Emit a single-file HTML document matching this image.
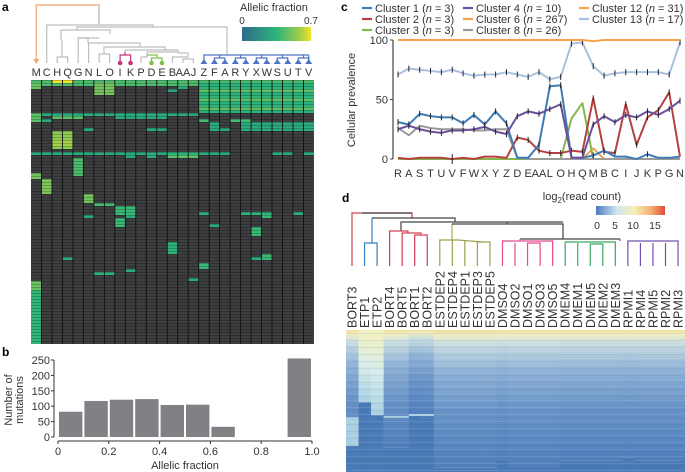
<!DOCTYPE html>
<html><head><meta charset="utf-8"><style>
html,body{margin:0;padding:0;background:#fff;}
svg{display:block;font-family:"Liberation Sans",sans-serif;}
</style></head><body>
<svg id="fig" width="685" height="472" viewBox="0 0 685 472">
<defs>
<linearGradient id="afgrad" x1="0" x2="1"><stop offset="0" stop-color="#2f6b8a"/><stop offset="0.5" stop-color="#2cb47c"/><stop offset="0.85" stop-color="#a6cf4a"/><stop offset="1" stop-color="#f2e52a"/></linearGradient>
<linearGradient id="rcgrad" x1="0" x2="1"><stop offset="0" stop-color="#4a7bc0"/><stop offset="0.3" stop-color="#cfe6f0"/><stop offset="0.55" stop-color="#f5f0b8"/><stop offset="0.8" stop-color="#f4b070"/><stop offset="1" stop-color="#e04a3a"/></linearGradient>
<linearGradient id="colgrad" x1="0" y1="0" x2="0" y2="1"><stop offset="0" stop-color="#f3d98a"/><stop offset="0.03" stop-color="#f3efc0"/><stop offset="0.1" stop-color="#c9dde0"/><stop offset="0.3" stop-color="#8fb2d6"/><stop offset="0.6" stop-color="#6893c7"/><stop offset="1" stop-color="#517fbc"/></linearGradient>
<linearGradient id="etpgrad" x1="0" y1="0" x2="0" y2="1"><stop offset="0" stop-color="#f4f0bc"/><stop offset="0.5" stop-color="#d6ecea"/><stop offset="1" stop-color="#a9d0e2"/></linearGradient>
<pattern id="rowlines" width="4" height="3" patternUnits="userSpaceOnUse"><rect width="4" height="1" y="2" fill="#000" opacity="0.22"/></pattern>
<pattern id="dstripe" width="6" height="7" patternUnits="userSpaceOnUse"><rect width="6" height="1" y="1" fill="#fff" opacity="0.1"/><rect width="6" height="1" y="4" fill="#2a5a99" opacity="0.1"/></pattern>
</defs>

<!-- PANEL A -->
<text x="2" y="11" font-size="12" font-weight="bold">a</text>
<g id="dendroA" fill="none" stroke-width="1.2"></g>
<g id="labelsA" font-size="11" fill="#333" text-anchor="middle"></g>
<text x="240" y="11" font-size="11" fill="#333">Allelic fraction</text>
<text x="242" y="24" font-size="10" fill="#333" text-anchor="middle">0</text>
<text x="311" y="24" font-size="10" fill="#333" text-anchor="middle">0.7</text>
<rect x="242" y="27" width="69" height="14" fill="url(#afgrad)"/>
<g id="heatA"></g>

<!-- PANEL B -->
<text x="2" y="356" font-size="12" font-weight="bold">b</text>
<g id="chartB"></g>
<text x="185" y="469" font-size="11" fill="#333" text-anchor="middle">Allelic fraction</text>
<text transform="translate(12,400) rotate(-90)" font-size="11" fill="#333" text-anchor="middle"><tspan x="0" dy="0">Number of</tspan><tspan x="0" dy="11">mutations</tspan></text>

<!-- PANEL C -->
<text x="341" y="11" font-size="12" font-weight="bold">c</text>
<g id="legendC" font-size="11" fill="#333"></g>
<g id="chartC"></g>
<text transform="translate(355,100) rotate(-90)" font-size="11" fill="#333" text-anchor="middle">Cellular prevalence</text>

<!-- PANEL D -->
<text x="342" y="202" font-size="12" font-weight="bold">d</text>
<text x="582" y="200" font-size="11" fill="#333" text-anchor="middle">log<tspan font-size="8" dy="3">2</tspan><tspan dy="-3">(read count)</tspan></text>
<rect x="596" y="206" width="69" height="9" fill="url(#rcgrad)"/>
<g font-size="10.5" fill="#333" text-anchor="middle">
<text x="597" y="229">0</text><text x="615" y="229">5</text><text x="633" y="229">10</text><text x="655" y="229">15</text></g>
<g id="dendroD" fill="none" stroke-width="1.2"></g>
<g id="labelsD" font-size="12.5" fill="#333"></g>
<g id="heatD"></g>
</svg>
<script>
const NS="http://www.w3.org/2000/svg";
function mk(tag,attrs,parent){const e=document.createElementNS(NS,tag);for(const k in attrs)e.setAttribute(k,attrs[k]);parent.appendChild(e);return e;}

/* ---------- Panel A data ---------- */
const samplesA=["M","C","H","Q","G","N","L","O","I","K","P","D","E","B","AA","J","Z","F","A","R","Y","X","W","S","U","T","V"];
// cells: [colStart,colEnd,rowStart,rowEnd,allelicFraction] (rows of 3px)
const cellsA=[
[0,26,0,1,0.42],[2,3,0,0,0.7],[0,0,1,2,0.48],[6,7,1,4,0.5],[13,13,3,3,0.25],[14,14,2,2,0.3],
[16,26,1,10,0.35],[16,26,3,3,0.45],[16,26,6,6,0.45],[16,26,9,9,0.45],
[0,15,11,11,0.3],[0,0,11,13,0.45],[1,1,13,13,0.3],[2,4,12,12,0.45],[8,12,12,12,0.3],
[16,16,13,13,0.4],[17,17,14,16,0.3],[19,20,13,13,0.4],[20,26,14,16,0.3],[18,18,16,16,0.3],[5,5,16,16,0.3],[11,12,16,16,0.3],
[2,3,17,22,0.55],[2,3,20,21,0.6],
[0,7,24,24,0.3],[8,12,24,24,0.3],[13,15,24,24,0.35],[16,18,24,24,0.3],[23,24,24,24,0.3],[26,26,24,24,0.3],[9,9,25,25,0.3],[11,11,25,25,0.3],[13,15,25,25,0.45],
[4,4,26,31,0.42],[0,0,31,32,0.5],[1,1,33,37,0.52],[5,5,38,40,0.5],[6,7,41,41,0.4],[8,9,42,44,0.38],[5,5,45,45,0.3],[9,9,45,45,0.3],
[16,16,44,44,0.35],[20,22,44,44,0.35],[22,22,45,45,0.38],[25,25,44,44,0.35],[8,8,46,48,0.38],[17,17,48,48,0.3],[21,21,49,51,0.38],
[13,13,54,57,0.35],[3,3,59,59,0.3],[21,21,59,59,0.3],[22,22,58,59,0.38],[16,16,61,62,0.38],[6,7,64,64,0.35],[9,9,63,63,0.3],[15,15,66,66,0.3],
[0,0,67,69,0.48],[0,0,70,87,0.36]
];
function afColor(v){
  const stops=[[0,[47,107,138]],[0.35,[44,180,124]],[0.6,[166,207,74]],[0.7,[242,229,42]]];
  v=Math.min(0.7,Math.max(0,v));
  for(let i=1;i<stops.length;i++){if(v<=stops[i][0]){const a=stops[i-1],b=stops[i],t=(v-a[0])/(b[0]-a[0]);
    return "rgb("+a[1].map((c,j)=>Math.round(c+(b[1][j]-c)*t)).join(",")+")";}}
  return "rgb(242,229,42)";
}
(function(){
  const g=document.getElementById("heatA"), x0=31, cw=10.48, y0=80, rh=3, nRows=88;
  const bg=mk("rect",{x:x0,y:y0,width:cw*27,height:rh*nRows,fill:"#3d3e40"},g);
  
  
  cellsA.forEach(c=>{
    const r=mk("rect",{x:x0+c[0]*cw,y:y0+c[2]*rh,width:(c[1]-c[0]+1)*cw,height:(c[3]-c[2]+1)*rh,fill:afColor(c[4])},g);
    
    
  });
  mk("rect",{x:x0,y:y0,width:cw*27,height:rh*nRows,fill:"url(#rowlines)"},g);
  for(let i=1;i<27;i++) mk("line",{x1:x0+i*cw,x2:x0+i*cw,y1:y0,y2:y0+rh*nRows,stroke:"#111","stroke-width":0.9},g);
  const lg=document.getElementById("labelsA");
  samplesA.forEach((s,i)=>{const t=mk("text",{x:x0+(i+0.5)*cw,y:76},lg);t.textContent=s;
    
    });
  const d=document.getElementById("dendroA");
  const X=i=>x0+(i+0.5)*cw, leafY=63;
  function L(pts,col){mk("polyline",{points:pts.map(p=>p.join(",")).join(" "),stroke:col},d);}
  const gr="#bdbdbd";
  L([[X(0),leafY-3],[X(0),5],[99,5],[99,25]],"#f4a46a");
  mk("polygon",{points:`${X(0)-3},${leafY-4} ${X(0)+3},${leafY-4} ${X(0)},${leafY+1}`,fill:"#f4a46a"},d);
  L([[99,5],[99,25]],gr);
  L([[X(1),leafY],[X(1),25],[153,25],[153,27]],gr);
  L([[77,30],[77,27],[227,27],[227,55]],gr);
  L([[61,40],[61,30],[110,30],[110,34]],gr);
  L([[X(2),leafY],[X(2),57],[X(3),57],[X(3),leafY]],gr);
  L([[62,57],[62,40]],gr);
  L([[X(4),leafY],[X(4),38],[88,38],[88,43]],gr);
  L([[78,38],[99,38]],gr);
  L([[X(5),leafY],[X(5),43],[140,43],[140,47]],gr);
  L([[X(6),leafY],[X(6),54],[X(7),54],[X(7),leafY]],gr);
  L([[104,54],[104,47],[165,47],[165,50]],gr);
  L([[125,50],[125,52]],gr);
  L([[X(8),leafY],[X(8),55],[X(9),55],[X(9),leafY]],"#c0357a");
  L([[125,55],[125,52]],"#c0357a");
  L([[125,50],[178,50]],gr);
  L([[X(10),leafY],[X(10),57],[147,57],[147,52],[178,52],[178,50]],gr);
  L([[X(11),leafY],[X(11),58],[X(12),58],[X(12),leafY]],"#7dc24e");
  L([[157,58],[157,55],[147,55]],"#7dc24e");
  L([[X(13),leafY],[X(13),57],[188,57],[188,53],[178,53]],gr);
  L([[X(14),leafY],[X(14),59],[X(15),59],[X(15),leafY]],gr);
  const bl="#4d73c4";
  L([[X(16),leafY],[X(16),55],[X(26),55]],bl);
  for(let i=17;i<26;i+=2){L([[X(i),leafY],[X(i),58],[X(i+1),58],[X(i+1),leafY]],bl);L([[(X(i)+X(i+1))/2,58],[(X(i)+X(i+1))/2,55]],bl);}
  L([[X(26),leafY],[X(26),55]],bl);
  for(let i=16;i<27;i++) mk("polygon",{points:`${X(i)-3.5},${leafY+1} ${X(i)+3.5},${leafY+1} ${X(i)},${leafY-4}`,fill:bl},d);
  [8,9,11,12].forEach(i=>mk("circle",{cx:X(i),cy:leafY,r:2.3,fill:i<10?"#c0357a":"#7dc24e"},d));
})();

/* ---------- Panel B data ---------- */
const binStarts=[0,0.1,0.2,0.3,0.4,0.5,0.6,0.7,0.8,0.9];
const binCounts=[82,117,121,123,104,105,33,0,0,255];
const bTicksX=["0","0.2","0.4","0.6","0.8","1.0"];
const bTicksY=[0,50,100,150,200,250];
(function(){
  const g=document.getElementById("chartB");
  const sx=v=>58+v*254, sy=v=>437-v*(77/250);
  binStarts.forEach((b,i)=>{if(binCounts[i]<=0)return;
    const r=mk("rect",{x:sx(b)+1,y:sy(binCounts[i]),width:254*0.1-2,height:sy(0)-sy(binCounts[i]),fill:"#808184"},g);
    
    });
  mk("line",{x1:54,x2:54,y1:sy(250),y2:sy(0),stroke:"#333","stroke-width":1},g);
  mk("line",{x1:sx(0),x2:sx(1),y1:441,y2:441,stroke:"#333","stroke-width":1},g);
  bTicksY.forEach(v=>{mk("line",{x1:51,x2:54,y1:sy(v),y2:sy(v),stroke:"#333"},g);
    const t=mk("text",{x:50,y:sy(v)+4,"font-size":11,fill:"#333","text-anchor":"end"},g);t.textContent=v;
    
    });
  bTicksX.forEach(s=>{const v=parseFloat(s);mk("line",{x1:sx(v),x2:sx(v),y1:441,y2:444,stroke:"#333"},g);
    const t=mk("text",{x:sx(v),y:455,"font-size":11,fill:"#333","text-anchor":"middle"},g);t.textContent=s;
    
    });
})();

/* ---------- Panel C data ---------- */
const samplesC=["R","A","S","T","U","V","F","W","X","Y","Z","D","E","AA","L","O","H","Q","M","B","C","I","J","K","P","G","N"];
const c13=[71,76,75,74,73,75,72,70,71,71,73,71,69,73,67,69,97,98,78,70,72,73,73,73,73,71,98];
const c12=[100,100,100,100,100,100,100,100,100,100,100,100,100,100,100,100,100,100,99,100,100,100,100,100,100,100,100];
const c1=[31,29,38,36,35,35,30,37,29,40,30,1,1,12,61,62,1,1,3,7,2,2,0,4,1,1,2];
const c4=[25,28,25,23,22,24,24,25,27,23,21,36,40,38,42,46,1,1,29,36,31,37,35,40,37,42,49];
const c8=[26,20,28,26,25,25,25,24,24,25,25,1,0,0,0,0,0,0,0,0,0,0,0,0,0,0,0];
const c2=[1,0,1,1,1,0,1,0,2,2,1,18,16,7,5,5,7,6,51,6,5,46,12,35,41,56,2];
const c3=[0,0,0,0,0,0,0,0,0,0,0,0,0,0,0,0,34,47,0,0,0,0,0,0,0,0,0];
const c6=[0,0,0,0,0,0,0,0,0,0,0,0,0,0,0,0,0,0,9,0,0,0,0,0,0,0,0];
const legendNames=["Cluster 1","Cluster 2","Cluster 3","Cluster 4","Cluster 6","Cluster 8","Cluster 12","Cluster 13"];
const legendN=[3,3,3,10,267,26,31,17];
const cTicksY=[0,50,100];
(function(){
  const g=document.getElementById("chartC");
  const sx=i=>398+i*(282/26), sy=v=>159-v*1.19;
  mk("line",{x1:393,x2:393,y1:sy(100),y2:sy(0),stroke:"#444","stroke-width":1.2},g);
  cTicksY.forEach(v=>{mk("line",{x1:390,x2:393,y1:sy(v),y2:sy(v),stroke:"#444"},g);
    const t=mk("text",{x:388,y:sy(v)+4,"font-size":11,fill:"#333","text-anchor":"end"},g);t.textContent=v;
    
    });
  samplesC.forEach((s,i)=>{const t=mk("text",{x:sx(i),y:177,"font-size":11,fill:"#333","text-anchor":"middle"},g);t.textContent=s;
    
    });
  const series=[[c6,"#f2a24e",false,"cluster-6-line"],[c3,"#86b650",false,"cluster-3-line"],[c8,"#9a9a9a",false,"cluster-8-line"],[c2,"#b5403f",true,"cluster-2-line"],[c1,"#3d7bb5",true,"cluster-1-line"],[c4,"#6a509e",true,"cluster-4-line"],[c13,"#a8c0e0",true,"cluster-13-line"],[c12,"#f7a04a",false,"cluster-12-line"]];
  series.forEach(([arr,col,eb,name])=>{
    const p=mk("polyline",{points:arr.map((v,i)=>sx(i)+","+sy(v)).join(" "),fill:"none",stroke:col,"stroke-width":2,"stroke-linejoin":"round"},g);
    
    
    if(eb) arr.forEach((v,i)=>{if(v<3)return;mk("line",{x1:sx(i),x2:sx(i),y1:sy(v)-3,y2:sy(v)+3,stroke:"#222","stroke-width":1},g);});
  });
  mk("line",{x1:sx(5),x2:sx(5),y1:sy(0)-5,y2:sy(0)+5,stroke:"#222"},g);
  const lg=document.getElementById("legendC");
  const cols=["#3d7bb5","#b5403f","#86b650","#6a509e","#f2a24e","#9a9a9a","#f7a04a","#a8c0e0"];
  const pos=[[362,8],[362,19],[362,30],[463,8],[463,19],[463,30],[579,8],[579,19]];
  legendNames.forEach((n,i)=>{
    const [x,y]=pos[i];
    mk("line",{x1:x,x2:x+10,y1:y,y2:y,stroke:cols[i],"stroke-width":2.2},lg);
    const t=mk("text",{x:x+13,y:y+4},lg);
    
    
    t.appendChild(document.createTextNode(n+" ("));
    const it=mk("tspan",{"font-style":"italic"},t);it.textContent="n";
    t.appendChild(document.createTextNode(" = "+legendN[i]+")"));
  });
})();

/* ---------- Panel D data ---------- */
const samplesD=["BORT3","ETP1","ETP2","BORT4","BORT5","BORT1","BORT2","ESTDEP2","ESTDEP4","ESTDEP1","ESTDEP3","ESTDEP5","DMSO4","DMSO2","DMSO1","DMSO3","DMSO5","DMEM4","DMEM1","DMEM5","DMEM2","DMEM3","RPMI1","RPMI4","RPMI5","RPMI2","RPMI3"];
// fraction of rows (from top) before the column becomes saturated low-count blue
const lowStart=[0.82,0.51,0.6,0.83,0.83,0.6,0.62,0.97,0.97,0.97,0.97,0.97,0.91,0.96,0.96,0.96,0.96,0.92,0.92,0.92,0.92,0.92,0.9,0.92,0.92,0.92,0.92];
(function(){
  const g=document.getElementById("heatD"), x0=346, cw=12.55, y0=330, H=142;
  samplesD.forEach((s,i)=>{
    const x=x0+i*cw, fill=(i===1||i===2)?"url(#etpgrad)":"url(#colgrad)";
    const ht=H*lowStart[i];
    const r=mk("rect",{x:x,y:y0,width:cw+0.3,height:ht,fill:fill},g);
    
    
    mk("rect",{x:x,y:y0+ht,width:cw+0.3,height:H-ht,fill:"#4a7bb7"},g);
  });
  mk("rect",{x:x0,y:417,width:cw,height:29,fill:"#a9cfe0"},g);
  mk("rect",{x:x0+3*cw,y:416,width:2*cw,height:2,fill:"#a9cfe0"},g);
  mk("rect",{x:x0+5*cw,y:414,width:2*cw,height:2,fill:"#a9cfe0"},g);
  mk("rect",{x:x0,y:y0,width:cw*27,height:H,fill:"url(#dstripe)"},g);
  const lg=document.getElementById("labelsD");
  samplesD.forEach((s,i)=>{const t=mk("text",{transform:`translate(${352+i*12.54+4.5},328) rotate(-90)`},lg);t.textContent=s;
    
    });
  const d=document.getElementById("dendroD");
  const X=i=>352+i*12.54, B=266;
  function L(pts,col){mk("polyline",{points:pts.map(p=>p.join(",")).join(" "),stroke:col},d);}
  const k="#444";
  L([[X(0),B],[X(0),213],[412,213],[412,218]],"#d04050");L([[X(0)+10,213],[412,213]],k);
  L([[372,218],[455,218],[455,222]],k);
  L([[372,218],[372,243]],"#3a7fc0");L([[X(1),B],[X(1),243],[X(2),243],[X(2),B]],"#3a7fc0");
  L([[401,231],[401,222],[563,222]],k);
  L([[507,222],[507,224]],k);
  const red="#d04050";
  L([[X(3),B],[X(3),231],[408,231],[408,233]],red);L([[X(4),B],[X(4),233],[421,233],[421,235]],red);L([[X(5),B],[X(5),235],[X(6),235],[X(6),B]],red);
  L([[452,224],[452,240]],"#a8a850");
  const ol="#a0a050";
  L([[X(7),B],[X(7),240],[458,240]],ol);L([[X(8),B],[X(8),240]],ol);L([[458,240],[470,241],[483,242]],ol);
  L([[X(9),B],[X(9),241]],ol);L([[X(10),B],[X(10),242],[X(11),242],[X(11),B]],ol);
  L([[452,224],[563,224],[563,239]],k);
  L([[520,239],[620,239]],k);
  const pk="#e84a90";
  L([[520,239],[520,241]],pk);L([[X(12),B],[X(12),241],[X(16),241],[X(16),B]],pk);L([[X(13),B],[X(13),243]],pk);L([[X(14),B],[X(14),243],[X(15),243],[X(15),B]],pk);
  const gn="#3aa860";
  L([[X(17),B],[X(17),242],[X(21),242],[X(21),B]],gn);L([[X(18),B],[X(18),243]],gn);L([[X(19),B],[X(19),244],[X(20),244],[X(20),B]],gn);
  const pu="#7050b0";
  L([[620,239],[620,241]],pu);L([[X(22),B],[X(22),241],[X(26),241],[X(26),B]],pu);L([[X(23),B],[X(23),243]],pu);L([[X(24),B],[X(24),243]],pu);L([[X(25),B],[X(25),243]],pu);
})();
</script>
</body></html>
